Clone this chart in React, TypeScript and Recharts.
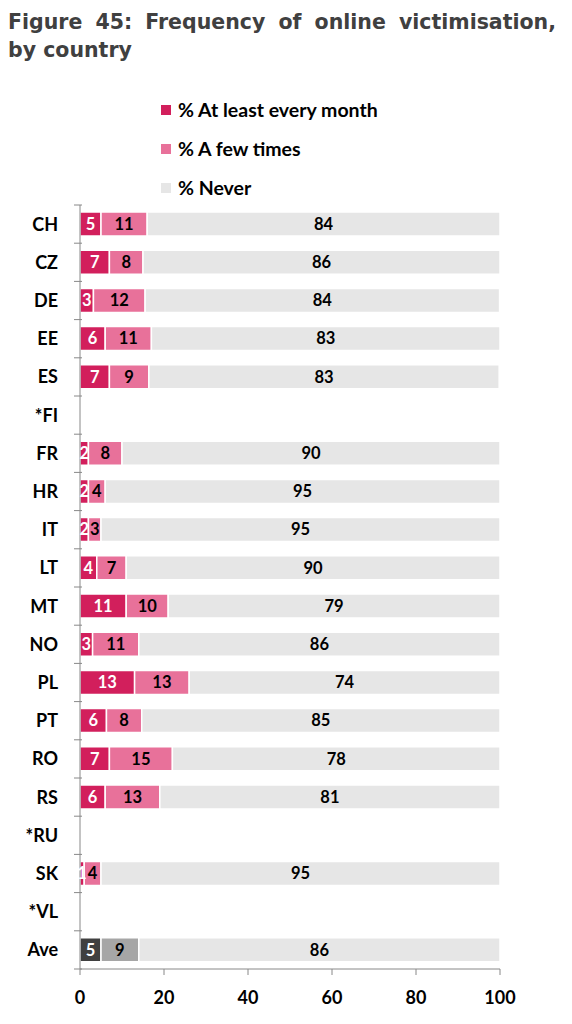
import React from "react";
import { BarChart, Bar, XAxis, YAxis, Legend, LabelList, Cell } from "recharts";

const countries = ["CH", "CZ", "DE", "EE", "ES", "*FI", "FR", "HR", "IT", "LT", "MT", "NO", "PL", "PT", "RO", "RS", "*RU", "SK", "*VL", "Ave"];
const monthly = [5, 7, 3.2, 6, 7, null, 2, 2, 2, 4, 11, 3, 13, 6.3, 7, 6, null, 1, null, 5];
const fewTimes = [11, 8, 12.3, 11, 9.4, null, 8, 4, 3, 7, 10, 11, 13, 8.4, 15, 13, null, 4, null, 9];
const never = [84, 86, 84.4, 83, 83.4, null, 90, 95, 95, 90, 79, 86, 74, 85.3, 78, 81, null, 95, null, 86];
const xTicks = [0, 20, 40, 60, 80, 100];

const seriesNames = ["% At least every month", "% A few times", "% Never"];
const colors = ["#D21F5C", "#E8719A", "#E6E6E6"];
const aveColors = ["#404040", "#A6A6A6", "#E6E6E6"];

const data = countries.map((c, i) => ({
  country: c,
  monthly: monthly[i],
  fewTimes: fewTimes[i],
  never: never[i],
}));

const FONT = "Lato, 'Open Sans', sans-serif";
const CHART_H = 1024;
const MARGIN = { top: 205, right: 72, bottom: 15, left: 20 };
const XAXIS_H = 40;
const fmt = (v: any) => (v == null ? "" : Math.round(Number(v)));

const YTick = (props: any) => {
  const { x, y, payload, index } = props;
  const plotH = CHART_H - MARGIN.top - MARGIN.bottom - XAXIS_H;
  const half = payload && payload.offset ? payload.offset : plotH / countries.length / 2;
  const axisX = x + 10;
  return (
    <g>
      <line x1={axisX - 8} x2={axisX} y1={y - half} y2={y - half} stroke="#888" strokeWidth={1} />
      {index === countries.length - 1 && (
        <line x1={axisX - 8} x2={axisX} y1={y + half} y2={y + half} stroke="#888" strokeWidth={1} />
      )}
      <text x={axisX - 24} y={y} dy="0.36em" textAnchor="end" fontFamily={FONT} fontWeight={700} fontSize={18} fill="#000">
        {payload.value}
      </text>
    </g>
  );
};

const LegendContent = () => (
  <div style={{ fontFamily: FONT, fontWeight: 700, fontSize: 19.5, color: "#000" }}>
    {seriesNames.map((n, i) => (
      <div key={n} style={{ display: "flex", alignItems: "center", height: 39 }}>
        <span style={{ display: "inline-block", width: 10, height: 10, background: colors[i], marginRight: 7 }} />
        <span>{n}</span>
      </div>
    ))}
  </div>
);

export default function App() {
  return (
    <div style={{ position: "absolute", left: 0, top: 0, width: 572, height: 1024, background: "#fff" }}>
      <div
        style={{
          position: "absolute",
          left: 8,
          top: 8,
          width: 548,
          fontFamily: "'DejaVu Sans', Verdana, sans-serif",
          fontWeight: 700,
          fontSize: 20.5,
          lineHeight: "28px",
          color: "#404040",
        }}
      >
        <div style={{ textAlign: "justify", textAlignLast: "justify" }}>Figure 45: Frequency of online victimisation,</div>
        <div>by country</div>
      </div>
      <BarChart
        width={572}
        height={CHART_H}
        data={data}
        layout="vertical"
        margin={MARGIN}
        barSize={24}
      >
        <XAxis
          type="number"
          domain={[0, 100]}
          ticks={xTicks}
          allowDataOverflow
          height={XAXIS_H}
          tickSize={6}
          tickMargin={16}
          stroke="#888"
          tick={{ fill: "#000", fontFamily: FONT, fontWeight: 700, fontSize: 18 }}
        />
        <YAxis
          type="category"
          dataKey="country"
          width={60}
          tickLine={false}
          stroke="#888"
          interval={0}
          tick={<YTick />}
        />
        <Legend
          layout="horizontal"
          verticalAlign="middle"
          align="center"
          content={<LegendContent />}
          wrapperStyle={{ position: "absolute", top: 90, left: 161, width: "auto", bottom: "auto" }}
        />
        <Bar dataKey="monthly" stackId="a" name={seriesNames[0]} fill={colors[0]} stroke="#fff" strokeWidth={1.5} isAnimationActive={false}>
          {data.map((d, i) => (
            <Cell key={i} fill={d.country === "Ave" ? aveColors[0] : colors[0]} />
          ))}
          <LabelList dataKey="monthly" position="center" formatter={fmt} fill="#fff" fontFamily={FONT} fontWeight={700} fontSize={16.5} />
        </Bar>
        <Bar dataKey="fewTimes" stackId="a" name={seriesNames[1]} fill={colors[1]} stroke="#fff" strokeWidth={1.5} isAnimationActive={false}>
          {data.map((d, i) => (
            <Cell key={i} fill={d.country === "Ave" ? aveColors[1] : colors[1]} />
          ))}
          <LabelList dataKey="fewTimes" position="center" formatter={fmt} fill="#000" fontFamily={FONT} fontWeight={700} fontSize={16.5} />
        </Bar>
        <Bar dataKey="never" stackId="a" name={seriesNames[2]} fill={colors[2]} stroke="#fff" strokeWidth={1.5} isAnimationActive={false}>
          {data.map((d, i) => (
            <Cell key={i} fill={d.country === "Ave" ? aveColors[2] : colors[2]} />
          ))}
          <LabelList dataKey="never" position="center" formatter={fmt} fill="#000" fontFamily={FONT} fontWeight={700} fontSize={16.5} />
        </Bar>
      </BarChart>
    </div>
  );
}
